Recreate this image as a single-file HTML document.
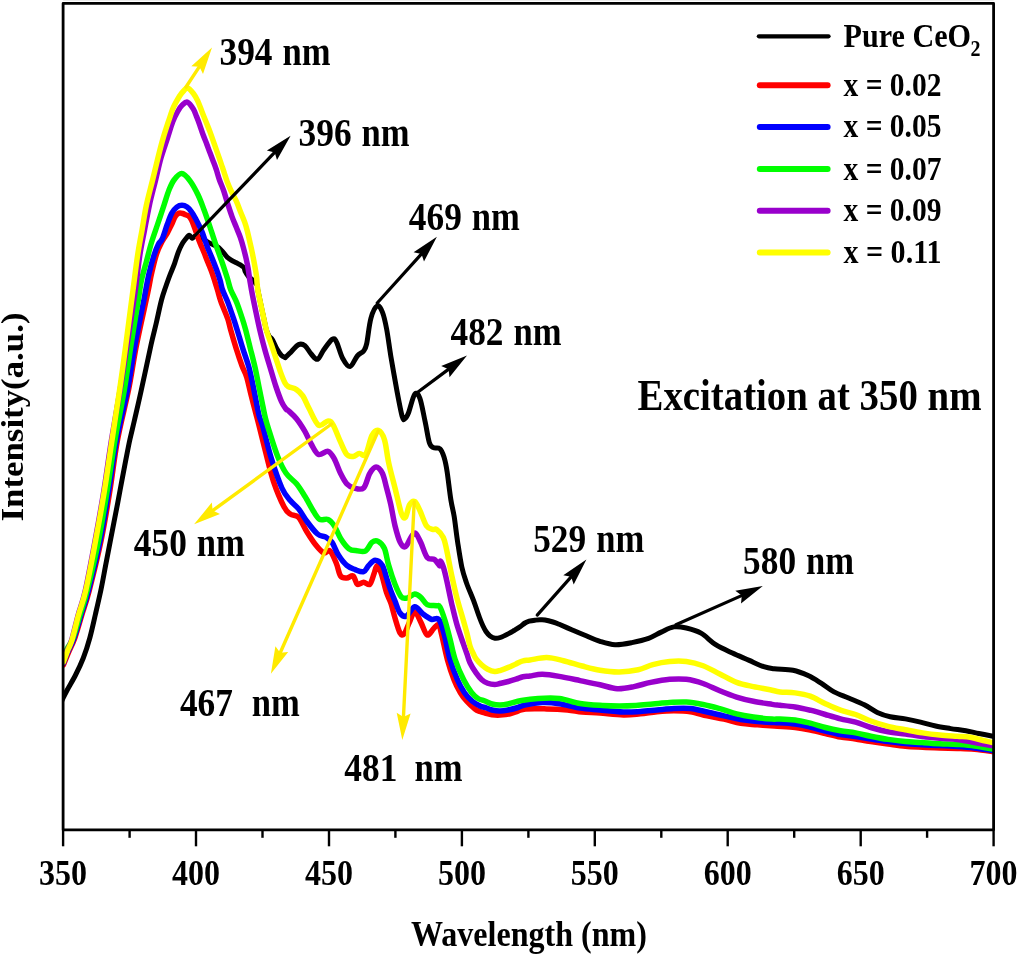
<!DOCTYPE html>
<html><head><meta charset="utf-8"><title>Emission spectra</title>
<style>html,body{margin:0;padding:0;background:#fff;} svg{display:block;filter:blur(0.55px);}</style>
</head><body>
<svg width="1018" height="955" viewBox="0 0 1018 955">
<rect width="1018" height="955" fill="#fff"/>
<clipPath id="pc"><rect x="63.1" y="3.4" width="930.5" height="826.4"/></clipPath>
<g clip-path="url(#pc)">
<path d="M62.0,700.5 C62.2,700.1 62.3,699.8 63.2,698.0 C64.1,696.2 65.2,693.8 67.2,690.0 C69.2,686.2 72.6,680.8 75.3,675.5 C78.0,670.2 80.9,664.2 83.3,658.0 C85.7,651.8 87.8,645.3 89.8,638.0 C91.8,630.7 93.7,621.8 95.5,614.0 C97.3,606.2 99.0,598.9 100.7,591.0 C102.4,583.1 103.8,575.0 105.4,566.5 C107.0,558.0 108.5,550.6 110.5,540.0 C112.5,529.4 115.9,512.7 117.7,503.0 C119.5,493.3 120.3,489.0 121.6,482.0 C122.9,475.0 124.2,468.0 125.6,461.0 C127.0,454.0 128.3,446.8 129.8,440.0 C131.3,433.2 132.6,428.3 134.5,420.0 C136.4,411.7 138.6,402.5 141.3,390.0 C144.1,377.5 148.5,356.3 151.0,345.0 C153.5,333.7 154.8,329.5 156.5,322.0 C158.2,314.5 160.0,305.7 161.5,300.0 C163.0,294.3 163.8,292.3 165.3,288.0 C166.8,283.7 168.7,278.3 170.3,274.2 C171.9,270.1 173.4,266.8 174.7,263.1 C176.0,259.4 177.1,255.3 178.3,252.1 C179.5,248.9 180.8,246.3 182.0,244.1 C183.2,241.9 184.4,240.5 185.6,239.0 C186.8,237.5 188.2,235.4 189.3,235.3 C190.4,235.2 191.2,238.1 192.2,238.2 C193.2,238.3 194.1,236.3 195.2,236.0 C196.3,235.7 197.5,236.0 198.8,236.5 C200.1,237.0 201.3,238.0 203.0,239.0 C204.7,240.0 207.0,241.6 208.8,242.6 C210.6,243.6 212.1,244.2 213.8,245.0 C215.5,245.8 217.1,246.2 218.8,247.6 C220.5,249.0 222.4,251.5 223.9,253.2 C225.4,254.9 226.3,256.4 227.6,257.6 C228.8,258.8 229.9,259.4 231.4,260.2 C232.9,261.0 234.8,261.9 236.4,262.7 C238.0,263.5 239.5,264.4 240.8,265.2 C242.1,266.0 243.3,266.6 244.0,267.7 C244.7,268.8 244.4,270.0 245.2,271.5 C245.9,273.0 247.2,275.0 248.5,276.5 C249.8,278.0 251.6,279.1 253.0,280.5 C254.4,281.9 256.3,283.4 257.1,285.0 C257.9,286.6 257.3,287.5 257.8,290.0 C258.3,292.5 259.2,296.7 259.9,300.0 C260.6,303.3 261.3,306.7 262.0,310.0 C262.7,313.3 263.5,316.7 264.2,320.0 C264.9,323.3 265.6,327.3 266.4,330.0 C267.2,332.7 268.0,334.4 269.0,336.0 C270.0,337.6 271.0,337.4 272.3,339.5 C273.6,341.6 275.3,346.2 276.8,348.8 C278.3,351.4 280.1,354.0 281.5,355.4 C282.9,356.8 284.3,357.0 285.0,357.3 C285.7,357.6 284.8,358.0 285.8,357.1 C286.9,356.2 289.2,353.8 291.3,351.7 C293.4,349.6 296.3,345.6 298.6,344.6 C300.9,343.6 302.9,344.1 305.0,345.7 C307.1,347.3 309.1,351.7 311.2,354.0 C313.3,356.3 315.4,360.0 317.5,359.3 C319.6,358.6 321.4,353.1 323.8,349.8 C326.2,346.5 330.0,340.8 332.1,339.4 C334.2,338.0 334.6,338.4 336.3,341.5 C338.1,344.6 340.3,354.0 342.6,358.2 C344.9,362.4 347.6,367.0 350.0,366.6 C352.4,366.2 355.0,358.6 357.3,356.0 C359.6,353.4 362.0,353.0 363.6,350.9 C365.2,348.8 365.5,349.0 366.7,343.6 C367.9,338.2 369.1,324.7 370.9,318.4 C372.6,312.1 375.3,306.9 377.2,305.9 C379.1,304.8 380.8,308.3 382.4,312.1 C384.0,315.9 385.2,321.6 386.6,328.9 C388.0,336.2 389.1,345.6 390.8,356.1 C392.6,366.6 395.2,381.6 397.1,391.7 C399.0,401.8 401.0,412.4 402.3,416.9 C403.6,421.4 404.0,419.1 405.0,418.5 C406.0,417.9 406.8,417.2 408.4,413.1 C410.0,409.1 412.8,396.6 414.7,394.2 C416.6,391.8 418.2,393.8 419.9,398.4 C421.6,402.9 423.5,414.2 425.1,421.5 C426.7,428.8 427.9,438.0 429.3,442.4 C430.7,446.8 431.8,446.6 433.5,447.6 C435.2,448.7 438.1,447.1 439.8,448.7 C441.6,450.3 442.8,453.3 444.0,457.1 C445.2,460.9 446.0,464.6 447.1,471.7 C448.2,478.8 449.7,492.5 450.9,500.0 C452.1,507.5 453.1,509.7 454.2,516.7 C455.3,523.7 456.3,533.4 457.6,541.8 C458.9,550.2 460.3,559.9 461.8,566.9 C463.3,573.9 464.9,578.1 466.8,583.7 C468.8,589.3 471.4,594.8 473.5,600.4 C475.6,606.0 477.9,613.2 479.5,617.5 C481.1,621.8 481.9,623.7 483.0,626.0 C484.1,628.3 484.8,629.8 486.0,631.5 C487.2,633.2 488.5,634.9 490.0,636.0 C491.5,637.1 493.3,638.0 495.0,638.3 C496.7,638.5 498.0,638.3 500.3,637.5 C502.6,636.7 506.3,634.8 508.6,633.6 C510.9,632.4 512.0,631.7 514.0,630.5 C516.0,629.3 518.6,627.8 520.4,626.5 C522.2,625.2 523.5,623.9 525.0,623.0 C526.5,622.1 527.5,621.7 529.2,621.2 C530.9,620.7 533.2,620.4 535.0,620.2 C536.8,620.0 538.3,619.8 540.0,619.8 C541.7,619.8 542.8,619.6 545.0,620.0 C547.2,620.4 550.6,621.3 553.0,622.0 C555.4,622.7 556.1,623.0 559.2,624.3 C562.3,625.6 567.5,627.9 571.7,629.7 C575.9,631.5 579.6,633.1 584.3,635.0 C589.0,636.9 594.9,639.7 600.0,641.3 C605.1,642.9 609.8,644.5 615.1,644.7 C620.4,644.9 626.3,643.7 631.9,642.6 C637.5,641.5 643.7,640.1 648.6,638.4 C653.5,636.6 657.0,634.0 661.2,632.1 C665.4,630.2 669.6,627.6 673.8,626.9 C678.0,626.2 681.8,627.0 686.3,628.0 C690.8,629.0 696.1,630.4 701.0,633.2 C705.9,636.0 710.5,641.4 715.7,644.7 C720.9,648.0 726.8,650.5 732.4,653.1 C738.0,655.7 744.0,658.1 749.2,660.4 C754.4,662.7 759.6,665.3 763.8,666.7 C768.0,668.1 769.4,668.2 774.3,668.8 C779.2,669.4 787.4,669.1 793.0,670.2 C798.6,671.3 803.4,673.4 808.1,675.6 C812.8,677.8 816.8,680.5 821.1,683.2 C825.4,685.9 829.3,689.4 834.0,691.9 C838.7,694.4 844.2,696.1 849.2,698.3 C854.2,700.4 859.6,702.4 864.3,704.8 C869.0,707.1 873.0,710.4 877.3,712.4 C881.6,714.4 885.5,715.6 890.2,716.7 C894.9,717.8 900.4,718.0 905.4,718.9 C910.4,719.8 915.5,720.9 920.5,722.1 C925.5,723.3 930.6,724.9 935.6,726.0 C940.6,727.1 945.7,727.8 950.7,728.6 C955.8,729.4 961.2,730.0 965.9,730.8 C970.6,731.6 974.3,732.6 978.8,733.5 C983.3,734.4 990.0,735.6 992.9,736.2 C995.8,736.8 995.5,736.9 996.0,737.0" fill="none" stroke="#000000" stroke-width="5.0" stroke-linejoin="round" stroke-linecap="round"/>
<path d="M63.4,665.0 C64.2,663.0 66.4,657.5 68.3,653.0 C70.2,648.5 72.5,644.3 74.8,638.0 C77.0,631.7 79.4,623.0 81.8,615.0 C84.2,607.0 86.1,602.7 89.3,590.2 C92.5,577.7 97.8,556.7 101.2,540.0 C104.7,523.3 107.3,506.7 110.0,490.0 C112.7,473.3 114.4,456.7 117.5,440.0 C120.6,423.3 125.3,405.8 128.5,390.0 C131.7,374.2 133.3,361.2 136.5,345.0 C139.7,328.8 145.2,304.8 147.7,293.0 C150.2,281.2 149.9,280.7 151.4,274.2 C152.9,267.7 154.7,259.6 156.5,254.1 C158.3,248.6 160.4,244.7 162.2,241.2 C164.0,237.7 165.7,235.9 167.3,233.1 C168.9,230.3 170.3,227.1 171.7,224.3 C173.0,221.5 174.2,218.0 175.4,216.2 C176.6,214.3 177.8,213.6 179.0,213.2 C180.2,212.8 181.6,213.2 182.7,213.5 C183.8,213.8 184.6,214.4 185.6,214.8 C186.6,215.2 187.6,215.1 188.6,216.0 C189.6,216.9 190.5,218.1 191.5,220.0 C192.5,221.9 193.4,224.5 194.4,227.2 C195.4,229.9 196.4,233.1 197.4,236.0 C198.4,238.9 199.5,241.7 200.6,244.4 C201.7,247.1 202.7,249.2 203.8,252.0 C205.0,254.8 206.2,258.3 207.5,261.4 C208.8,264.5 210.1,267.6 211.3,270.8 C212.5,274.0 213.5,277.1 214.5,280.3 C215.5,283.5 216.4,286.4 217.5,290.0 C218.6,293.6 219.3,297.1 221.0,301.9 C222.7,306.7 226.1,314.0 227.7,318.7 C229.3,323.4 229.3,325.0 230.7,330.0 C232.1,335.0 234.4,342.8 236.3,348.8 C238.2,354.8 240.3,361.1 242.0,365.8 C243.7,370.5 245.1,372.1 246.7,377.1 C248.2,382.1 249.7,389.6 251.3,395.9 C252.9,402.2 254.9,409.9 256.2,414.8 C257.5,419.7 257.3,418.7 258.9,425.0 C260.5,431.3 263.3,443.0 265.7,452.4 C268.1,461.8 270.4,472.4 273.5,481.5 C276.6,490.6 281.2,501.4 284.0,506.8 C286.8,512.2 287.9,512.4 290.3,514.1 C292.7,515.9 295.8,514.3 298.6,517.3 C301.4,520.3 304.2,527.5 307.0,532.0 C309.8,536.5 312.6,541.0 315.4,544.5 C318.2,548.0 321.4,551.9 323.8,552.9 C326.2,553.9 327.9,549.1 330.0,550.8 C332.1,552.5 334.6,559.1 336.3,563.3 C338.1,567.5 338.8,573.4 340.5,575.9 C342.2,578.4 344.7,578.0 346.8,578.0 C348.9,578.0 351.4,574.9 353.1,575.9 C354.9,576.9 355.6,583.2 357.3,584.3 C359.1,585.3 361.5,582.2 363.6,582.2 C365.7,582.2 368.1,585.7 369.8,584.3 C371.5,582.9 372.8,576.9 374.0,573.8 C375.2,570.6 376.0,565.4 377.2,565.4 C378.4,565.4 379.8,569.2 381.4,573.8 C383.0,578.3 385.0,587.8 386.6,592.7 C388.2,597.6 389.4,598.8 390.8,603.0 C392.2,607.2 393.5,613.0 395.0,618.0 C396.5,623.0 398.5,630.2 400.0,632.9 C401.5,635.5 402.6,635.6 404.2,633.9 C405.8,632.1 407.6,626.1 409.4,622.4 C411.1,618.7 412.8,611.9 414.7,611.9 C416.6,611.9 418.8,618.5 420.9,622.4 C423.0,626.2 425.1,634.0 427.2,635.0 C429.3,636.0 431.6,630.5 433.5,628.7 C435.4,627.0 437.4,623.6 438.7,624.5 C440.0,625.4 440.0,628.1 441.5,634.0 C443.0,639.9 445.4,652.3 447.5,660.0 C449.6,667.7 452.0,674.6 454.1,680.1 C456.2,685.6 458.2,689.1 460.4,692.7 C462.5,696.3 464.6,698.8 467.0,701.5 C469.4,704.2 472.8,707.3 475.0,709.0 C477.2,710.7 478.3,710.8 480.0,711.5 C481.7,712.2 483.0,712.5 485.0,713.0 C487.0,713.5 489.5,714.4 492.0,714.8 C494.5,715.1 497.0,715.3 500.0,715.1 C503.0,714.9 507.0,714.5 510.0,713.8 C513.0,713.1 515.4,711.8 518.0,711.0 C520.6,710.2 520.9,709.4 525.7,709.0 C530.5,708.6 539.6,708.8 546.6,708.9 C553.6,709.0 561.6,709.4 567.5,709.9 C573.4,710.4 576.8,711.5 582.2,712.0 C587.6,712.5 593.1,712.6 600.0,713.1 C606.9,713.6 616.8,714.8 623.5,714.9 C630.2,715.0 634.7,714.3 640.3,713.8 C645.9,713.3 651.4,712.2 657.0,711.7 C662.6,711.2 668.2,710.7 673.8,710.7 C679.4,710.7 684.9,710.8 690.5,711.7 C696.1,712.6 701.7,714.7 707.3,715.9 C712.9,717.1 718.4,717.9 724.0,719.1 C729.6,720.3 735.2,722.3 740.8,723.3 C746.4,724.2 751.9,724.3 757.5,724.8 C763.1,725.2 768.0,725.5 774.3,726.0 C780.6,726.5 789.1,726.8 795.1,727.5 C801.1,728.2 805.2,729.0 810.3,730.0 C815.3,731.0 820.4,732.3 825.4,733.5 C830.4,734.7 835.5,736.1 840.5,737.0 C845.5,737.9 850.6,738.2 855.6,739.0 C860.6,739.8 865.4,740.7 870.8,741.5 C876.2,742.3 882.3,743.2 888.1,744.0 C893.9,744.8 899.6,745.8 905.4,746.3 C911.1,746.8 916.9,747.0 922.6,747.3 C928.4,747.6 934.1,747.8 939.9,748.0 C945.7,748.2 951.4,748.3 957.2,748.5 C963.0,748.7 968.5,748.8 974.5,749.3 C980.5,749.8 989.8,751.1 992.9,751.5" fill="none" stroke="#ff0000" stroke-width="5.5" stroke-linejoin="round" stroke-linecap="round"/>
<path d="M63.4,663.0 C64.1,661.2 66.0,656.2 67.8,652.0 C69.6,647.8 71.8,644.2 74.0,638.0 C76.2,631.8 78.6,623.0 81.0,615.0 C83.4,607.0 85.3,602.7 88.5,590.2 C91.7,577.7 96.8,556.7 100.2,540.0 C103.6,523.3 106.1,506.7 108.8,490.0 C111.5,473.3 113.4,456.7 116.5,440.0 C119.6,423.3 124.4,405.8 127.5,390.0 C130.6,374.2 132.3,360.0 135.0,345.0 C137.7,330.0 141.6,311.8 143.9,300.0 C146.2,288.2 147.2,281.6 148.9,274.2 C150.6,266.8 152.4,260.4 154.0,255.4 C155.6,250.4 157.1,246.7 158.5,244.0 C159.9,241.3 160.7,242.3 162.2,239.0 C163.7,235.7 165.7,228.6 167.3,224.3 C168.9,220.0 170.1,216.2 171.7,213.3 C173.3,210.4 175.1,208.4 176.8,207.1 C178.5,205.8 180.3,205.3 182.0,205.3 C183.7,205.3 185.5,206.0 187.1,207.1 C188.7,208.2 190.0,209.8 191.5,211.8 C193.0,213.8 194.6,216.8 195.9,219.2 C197.2,221.6 198.5,224.2 199.6,226.5 C200.7,228.8 201.3,229.8 202.5,233.0 C203.7,236.2 205.4,241.8 206.9,245.7 C208.4,249.6 209.7,252.5 211.3,256.4 C212.9,260.3 214.8,265.0 216.3,269.0 C217.8,273.0 219.1,276.8 220.1,280.3 C221.1,283.8 221.3,286.4 222.6,290.0 C223.9,293.6 225.9,297.1 227.7,301.9 C229.5,306.7 232.0,314.0 233.6,318.7 C235.2,323.4 235.6,325.0 237.2,330.0 C238.8,335.0 241.0,342.8 242.9,348.8 C244.8,354.8 246.9,360.3 248.5,365.8 C250.1,371.3 251.2,376.8 252.3,381.8 C253.4,386.8 254.0,390.4 255.1,395.9 C256.2,401.4 257.6,409.6 258.9,414.8 C260.2,420.0 260.9,419.9 263.0,427.2 C265.1,434.5 268.2,448.5 271.4,458.6 C274.5,468.7 278.8,481.0 281.9,488.0 C285.0,495.0 287.5,497.0 290.3,500.5 C293.1,504.0 295.8,505.4 298.6,508.9 C301.4,512.4 303.9,517.3 307.0,521.5 C310.1,525.7 314.4,531.4 317.5,534.0 C320.6,536.6 323.5,535.8 325.9,537.2 C328.3,538.6 330.0,539.4 332.1,542.4 C334.2,545.4 335.9,551.2 338.4,555.0 C340.8,558.8 344.0,563.0 346.8,565.4 C349.6,567.8 352.4,568.5 355.2,569.6 C358.0,570.7 361.3,572.4 363.6,571.7 C365.9,571.0 366.9,567.3 368.8,565.4 C370.7,563.5 372.8,560.2 375.1,560.2 C377.4,560.2 380.5,562.4 382.4,565.4 C384.3,568.4 385.2,573.8 386.6,578.0 C388.0,582.2 389.4,586.8 390.8,590.6 C392.2,594.4 393.5,597.3 395.0,601.0 C396.5,604.7 398.1,610.5 400.0,613.0 C401.9,615.5 403.9,617.1 406.3,616.1 C408.8,615.1 411.9,607.1 414.7,606.7 C417.5,606.4 420.2,611.9 423.0,614.0 C425.8,616.1 428.8,618.4 431.4,619.3 C434.0,620.2 436.6,616.9 438.7,619.3 C440.8,621.7 442.1,626.8 444.0,633.5 C445.9,640.2 447.7,651.7 450.0,659.5 C452.3,667.3 455.2,674.6 457.6,680.1 C460.0,685.6 462.1,689.2 464.5,692.7 C466.9,696.2 469.4,698.8 472.0,701.0 C474.6,703.2 477.8,704.9 480.0,706.0 C482.2,707.1 483.0,706.7 485.0,707.4 C487.0,708.1 489.5,709.4 492.0,710.0 C494.5,710.6 497.3,711.0 500.0,711.0 C502.7,711.0 505.0,710.6 508.0,710.0 C511.0,709.4 515.0,708.4 518.0,707.5 C521.0,706.6 521.6,705.5 525.7,704.7 C529.8,703.9 536.8,702.8 542.4,702.6 C548.0,702.4 552.9,702.8 559.2,703.7 C565.5,704.6 573.3,707.0 580.1,708.0 C586.9,709.0 592.8,709.3 600.0,710.0 C607.2,710.7 616.8,711.8 623.5,712.0 C630.2,712.2 634.7,711.8 640.3,711.5 C645.9,711.2 651.4,710.5 657.0,710.0 C662.6,709.5 668.2,708.8 673.8,708.5 C679.4,708.2 684.9,707.9 690.5,708.5 C696.1,709.1 701.7,710.8 707.3,712.0 C712.9,713.2 718.4,714.6 724.0,715.9 C729.6,717.1 735.2,718.6 740.8,719.5 C746.4,720.4 751.9,721.0 757.5,721.5 C763.1,722.0 768.0,722.1 774.3,722.5 C780.6,722.9 789.1,723.2 795.1,724.0 C801.1,724.8 805.2,725.8 810.3,727.0 C815.3,728.2 820.4,729.8 825.4,731.0 C830.4,732.2 835.5,733.6 840.5,734.5 C845.5,735.4 850.6,735.8 855.6,736.5 C860.6,737.2 865.4,738.2 870.8,739.0 C876.2,739.8 882.3,740.8 888.1,741.5 C893.9,742.2 899.6,743.0 905.4,743.5 C911.1,744.0 916.9,744.5 922.6,744.8 C928.4,745.1 934.1,745.2 939.9,745.5 C945.7,745.8 951.4,746.1 957.2,746.5 C963.0,746.9 968.5,747.3 974.5,748.0 C980.5,748.7 989.8,750.1 992.9,750.5" fill="none" stroke="#0000ff" stroke-width="5.5" stroke-linejoin="round" stroke-linecap="round"/>
<path d="M63.4,657.5 C64.1,655.9 65.9,651.2 67.5,648.0 C69.1,644.8 70.9,643.5 73.0,638.0 C75.1,632.5 77.6,623.0 80.0,615.0 C82.4,607.0 84.2,602.7 87.3,590.2 C90.4,577.7 95.4,556.7 98.7,540.0 C102.0,523.3 104.6,506.7 107.3,490.0 C110.0,473.3 112.2,456.7 115.0,440.0 C117.8,423.3 121.6,405.8 124.3,390.0 C127.0,374.2 128.7,360.0 131.0,345.0 C133.3,330.0 136.6,310.8 138.3,300.0 C140.0,289.2 140.1,286.9 141.4,280.5 C142.8,274.1 144.7,267.9 146.4,261.6 C148.1,255.3 149.5,249.1 151.4,242.8 C153.3,236.5 155.6,230.3 157.7,224.0 C159.8,217.7 162.1,210.8 164.0,205.1 C165.9,199.4 167.3,194.2 169.0,190.0 C170.7,185.8 171.9,182.8 174.0,180.0 C176.1,177.2 179.0,173.4 181.7,173.5 C184.4,173.6 187.3,177.2 190.0,180.8 C192.7,184.4 195.8,190.2 198.1,195.0 C200.4,199.8 202.0,204.4 204.0,209.7 C206.0,215.0 208.2,221.5 210.0,227.0 C211.8,232.5 213.5,237.9 215.1,242.6 C216.7,247.3 218.0,250.9 219.5,255.1 C221.0,259.3 222.6,263.7 223.9,267.7 C225.2,271.7 226.4,275.3 227.6,279.0 C228.8,282.7 229.2,286.0 230.8,290.0 C232.4,294.0 235.0,298.2 236.9,303.0 C238.8,307.8 240.8,314.2 242.3,318.7 C243.8,323.2 244.3,325.0 245.7,330.0 C247.0,335.0 248.8,342.5 250.4,348.8 C252.0,355.1 253.7,361.4 255.1,367.7 C256.5,374.0 257.6,380.2 258.9,386.5 C260.2,392.8 261.6,400.1 262.7,405.4 C263.8,410.7 264.4,414.2 265.5,418.5 C266.6,422.8 267.3,425.1 269.3,431.4 C271.3,437.7 274.9,449.5 277.7,456.5 C280.5,463.5 283.0,468.8 286.1,473.3 C289.2,477.9 293.4,480.0 296.5,483.8 C299.6,487.6 302.1,491.8 304.9,496.3 C307.7,500.8 310.9,507.1 313.3,511.0 C315.8,514.9 317.2,518.0 319.6,519.4 C322.1,520.8 325.6,518.3 328.0,519.4 C330.4,520.5 332.1,522.6 334.2,525.7 C336.3,528.8 338.1,534.4 340.5,538.2 C342.9,542.0 346.1,546.6 348.9,548.7 C351.7,550.8 354.5,550.4 357.3,550.8 C360.1,551.1 363.3,552.2 365.7,550.8 C368.1,549.4 369.8,544.0 371.9,542.4 C374.0,540.8 376.1,540.3 378.2,541.4 C380.3,542.5 382.8,544.7 384.5,548.7 C386.2,552.7 386.9,559.5 388.7,565.4 C390.4,571.3 392.9,579.0 395.0,584.3 C397.1,589.5 399.2,594.6 401.3,596.9 C403.4,599.2 405.3,598.4 407.5,597.9 C409.7,597.4 412.5,594.2 414.7,594.1 C416.9,594.0 418.8,595.5 420.9,597.3 C423.0,599.0 424.6,603.2 427.2,604.6 C429.8,606.0 434.5,605.3 436.6,605.7 C438.7,606.1 438.6,604.5 440.0,607.0 C441.4,609.5 443.3,615.2 445.0,620.5 C446.7,625.8 448.3,632.6 450.0,639.0 C451.7,645.4 452.7,652.1 455.0,659.0 C457.3,665.9 461.0,674.5 463.8,680.1 C466.6,685.7 469.3,689.6 471.7,692.7 C474.1,695.8 475.8,697.1 478.0,698.5 C480.2,699.9 482.7,700.1 485.0,701.0 C487.3,701.9 489.5,703.3 492.0,704.0 C494.5,704.7 497.3,705.0 500.0,705.0 C502.7,705.0 504.4,704.8 508.0,704.0 C511.6,703.2 516.5,701.4 521.5,700.5 C526.5,699.6 531.9,698.8 538.2,698.4 C544.5,698.0 552.2,697.5 559.2,698.4 C566.2,699.2 572.9,702.3 580.1,703.5 C587.3,704.7 596.1,705.1 602.6,705.5 C609.1,705.9 613.7,706.0 619.3,706.0 C624.9,706.0 630.5,705.8 636.1,705.5 C641.7,705.2 647.2,704.5 652.8,704.0 C658.4,703.5 664.0,702.8 669.6,702.5 C675.2,702.2 680.7,701.7 686.3,702.0 C691.9,702.3 697.5,703.4 703.1,704.5 C708.7,705.6 714.2,707.1 719.8,708.6 C725.4,710.1 731.0,712.4 736.6,713.8 C742.2,715.2 747.5,716.1 753.4,717.0 C759.3,717.9 767.8,718.8 772.2,719.1 C776.6,719.4 776.2,718.8 780.0,718.9 C783.8,719.0 790.1,719.3 795.1,720.0 C800.1,720.7 805.2,722.0 810.3,723.2 C815.3,724.5 820.4,726.2 825.4,727.5 C830.4,728.8 835.5,729.9 840.5,730.8 C845.5,731.7 850.6,732.0 855.6,732.9 C860.6,733.8 865.4,735.1 870.8,736.2 C876.2,737.3 882.3,738.5 888.1,739.4 C893.9,740.3 899.6,741.1 905.4,741.6 C911.1,742.1 916.9,742.2 922.6,742.6 C928.4,743.0 934.1,743.4 939.9,743.7 C945.7,744.0 951.4,744.0 957.2,744.4 C963.0,744.8 968.5,745.1 974.5,745.9 C980.5,746.7 989.8,748.6 992.9,749.1" fill="none" stroke="#00ff00" stroke-width="5.5" stroke-linejoin="round" stroke-linecap="round"/>
<path d="M63.4,661.0 C64.0,659.2 65.8,654.0 67.2,650.5 C68.6,647.0 69.9,645.9 71.7,640.0 C73.5,634.1 75.9,623.3 78.2,615.0 C80.5,606.7 82.6,602.7 85.4,590.2 C88.2,577.7 92.1,556.7 95.2,540.0 C98.3,523.3 101.3,506.7 104.0,490.0 C106.7,473.3 108.8,456.7 111.5,440.0 C114.2,423.3 117.5,405.8 120.1,390.0 C122.7,374.2 124.5,361.7 127.0,345.0 C129.5,328.3 133.2,304.9 135.3,290.0 C137.4,275.1 138.3,265.4 139.8,255.4 C141.3,245.4 142.9,238.6 144.5,230.2 C146.1,221.8 147.6,213.5 149.4,205.1 C151.2,196.7 153.7,187.8 155.6,180.0 C157.5,172.2 158.9,165.4 160.8,158.5 C162.8,151.6 165.3,144.7 167.3,138.6 C169.3,132.5 171.0,126.4 172.7,121.9 C174.4,117.4 176.1,114.3 177.7,111.5 C179.3,108.7 180.8,106.3 182.5,104.8 C184.2,103.2 185.8,101.5 187.6,102.2 C189.4,102.9 191.9,106.7 193.4,109.1 C194.9,111.5 195.4,113.8 196.5,116.4 C197.6,119.0 198.6,121.6 199.7,124.8 C200.8,128.0 202.1,132.0 203.3,135.3 C204.5,138.6 205.9,141.7 207.0,144.7 C208.1,147.7 209.0,150.3 210.1,153.1 C211.2,155.9 212.2,158.6 213.3,161.4 C214.4,164.2 215.4,166.7 216.4,169.8 C217.4,172.9 218.3,176.6 219.5,180.0 C220.7,183.4 222.2,186.5 223.6,190.5 C225.0,194.5 226.4,199.8 227.8,204.1 C229.2,208.4 230.6,212.8 232.0,216.6 C233.4,220.4 234.8,223.6 236.2,227.1 C237.6,230.6 239.2,234.1 240.4,237.6 C241.6,241.1 242.6,244.6 243.5,248.1 C244.4,251.6 245.3,255.0 246.1,258.5 C246.9,262.0 247.6,265.4 248.2,269.0 C248.8,272.6 249.2,276.5 249.8,280.0 C250.4,283.5 250.6,285.0 251.5,290.0 C252.4,295.0 254.1,303.3 255.5,310.0 C256.9,316.7 258.3,323.5 259.8,330.0 C261.3,336.5 262.9,342.5 264.6,348.8 C266.3,355.1 268.3,361.4 270.2,367.7 C272.1,374.0 274.0,380.9 275.9,386.5 C277.8,392.1 279.8,397.9 281.5,401.6 C283.2,405.4 284.9,407.5 286.0,409.0 C287.1,410.5 286.4,408.9 288.2,410.5 C289.9,412.1 293.7,415.3 296.5,418.8 C299.3,422.3 302.4,427.2 304.9,431.4 C307.3,435.6 308.9,440.1 311.2,444.0 C313.5,447.9 315.7,453.3 318.5,454.5 C321.3,455.7 325.4,450.6 328.0,451.3 C330.6,452.0 332.1,454.9 334.2,458.6 C336.3,462.3 338.4,469.1 340.5,473.3 C342.6,477.5 344.5,481.4 346.8,483.8 C349.1,486.2 351.3,487.3 354.1,488.0 C356.9,488.7 361.0,490.4 363.6,488.0 C366.2,485.6 367.7,476.8 369.8,473.3 C371.9,469.8 374.0,467.0 376.1,467.0 C378.2,467.0 380.6,469.8 382.4,473.3 C384.1,476.8 385.2,482.8 386.6,488.0 C388.0,493.2 389.4,498.4 390.8,504.7 C392.2,511.0 393.4,519.4 395.0,525.7 C396.6,532.0 398.5,538.9 400.2,542.4 C401.9,545.9 403.5,547.6 405.4,546.6 C407.3,545.6 410.0,538.3 411.7,536.1 C413.4,533.9 414.2,532.3 415.7,533.4 C417.2,534.5 419.0,538.8 420.9,542.8 C422.8,546.8 424.9,554.7 427.2,557.5 C429.5,560.3 432.5,558.2 434.6,559.6 C436.7,561.0 438.8,565.7 439.8,565.9 C440.8,566.1 439.9,560.8 440.5,561.0 C441.1,561.2 442.3,563.7 443.3,566.9 C444.3,570.1 445.3,574.1 446.7,580.3 C448.1,586.4 450.0,596.5 451.7,603.8 C453.4,611.0 454.8,617.1 456.7,623.8 C458.6,630.5 461.7,638.9 463.4,643.9 C465.1,648.9 465.9,650.9 467.0,654.0 C468.1,657.1 468.5,659.6 470.0,662.7 C471.5,665.8 473.9,669.9 475.9,672.7 C477.9,675.6 479.8,678.0 481.8,679.8 C483.8,681.6 485.6,682.5 487.7,683.3 C489.8,684.1 492.5,684.5 494.7,684.5 C496.9,684.5 498.3,683.8 500.6,683.3 C502.9,682.8 505.7,682.2 508.3,681.5 C510.9,680.8 513.5,680.0 516.0,679.2 C518.5,678.4 520.7,677.3 523.0,676.8 C525.3,676.3 526.8,676.4 530.0,676.0 C533.2,675.6 537.5,674.2 542.4,674.3 C547.3,674.4 552.9,675.3 559.2,676.4 C565.5,677.5 573.3,679.2 580.1,680.6 C586.9,682.0 593.8,683.4 600.0,684.8 C606.2,686.1 611.5,688.4 617.2,688.7 C622.9,689.0 628.4,687.7 634.0,686.6 C639.6,685.5 644.8,683.6 650.7,682.4 C656.6,681.2 663.7,679.8 669.6,679.3 C675.5,678.8 680.7,678.6 686.3,679.3 C691.9,680.0 697.5,681.6 703.1,683.5 C708.7,685.4 714.2,688.5 719.8,690.8 C725.4,693.1 731.0,695.4 736.6,697.1 C742.2,698.9 747.5,700.1 753.4,701.3 C759.3,702.5 767.8,703.7 772.2,704.4 C776.6,705.1 776.2,704.9 780.0,705.3 C783.8,705.7 790.1,706.2 795.1,707.0 C800.1,707.8 805.2,709.0 810.3,710.2 C815.3,711.5 820.4,713.0 825.4,714.5 C830.4,716.0 835.5,717.6 840.5,718.9 C845.5,720.2 850.6,720.7 855.6,722.1 C860.6,723.5 865.4,725.9 870.8,727.5 C876.2,729.1 882.3,730.7 888.1,731.8 C893.9,732.9 899.6,733.2 905.4,734.0 C911.1,734.8 916.9,735.9 922.6,736.6 C928.4,737.3 934.1,737.8 939.9,738.3 C945.7,738.8 951.4,738.7 957.2,739.4 C963.0,740.1 968.5,741.5 974.5,742.6 C980.5,743.7 989.8,745.4 992.9,745.9" fill="none" stroke="#9900cc" stroke-width="5.5" stroke-linejoin="round" stroke-linecap="round"/>
<path d="M63.4,662.0 C64.1,660.2 66.1,654.7 67.5,651.0 C68.9,647.3 70.2,646.0 72.0,640.0 C73.8,634.0 76.2,623.3 78.5,615.0 C80.8,606.7 82.9,602.7 85.8,590.2 C88.7,577.7 92.6,556.7 95.7,540.0 C98.8,523.3 101.8,506.7 104.5,490.0 C107.2,473.3 109.5,456.7 112.0,440.0 C114.5,423.3 117.3,405.8 119.6,390.0 C121.9,374.2 123.6,361.7 125.8,345.0 C128.0,328.3 131.0,304.9 133.0,290.0 C135.0,275.1 136.1,265.4 137.6,255.4 C139.1,245.4 140.5,238.6 142.0,230.2 C143.5,221.8 144.6,213.5 146.4,205.1 C148.2,196.7 150.7,187.8 152.6,180.0 C154.5,172.2 156.1,165.4 157.8,158.5 C159.5,151.6 161.2,144.7 163.0,138.6 C164.8,132.5 166.6,127.1 168.3,121.9 C170.1,116.7 171.6,111.6 173.5,107.2 C175.4,102.8 178.1,98.5 179.8,95.7 C181.6,92.9 182.7,91.8 184.0,90.5 C185.3,89.2 186.0,87.4 187.6,87.9 C189.2,88.4 191.7,91.3 193.4,93.4 C195.1,95.5 196.2,97.7 197.6,100.7 C199.0,103.7 200.4,107.7 201.8,111.2 C203.2,114.7 204.5,118.1 205.9,121.6 C207.3,125.1 208.8,128.6 210.1,132.1 C211.4,135.6 212.6,139.1 213.8,142.6 C215.0,146.1 216.3,149.6 217.5,153.1 C218.7,156.6 220.0,160.2 221.1,163.5 C222.2,166.8 223.3,169.9 224.3,173.0 C225.3,176.1 226.2,179.1 227.3,182.0 C228.4,184.9 229.4,187.3 230.9,190.5 C232.4,193.7 234.6,197.4 236.2,200.9 C237.8,204.4 239.0,207.9 240.4,211.4 C241.8,214.9 243.4,218.6 244.6,221.9 C245.8,225.2 246.4,227.5 247.3,231.0 C248.2,234.5 249.1,238.9 250.0,242.7 C250.9,246.5 251.7,250.1 252.5,254.0 C253.3,257.9 254.1,262.2 254.8,266.0 C255.5,269.8 256.1,273.0 256.6,277.0 C257.1,281.0 256.9,284.5 257.8,290.0 C258.7,295.5 260.6,303.3 262.0,310.0 C263.4,316.7 264.9,324.3 266.4,330.0 C267.9,335.7 269.6,339.4 271.2,344.1 C272.8,348.8 274.3,353.6 275.9,358.3 C277.5,363.0 279.1,368.3 280.6,372.4 C282.1,376.5 283.7,380.6 285.0,383.0 C286.3,385.4 286.3,385.4 288.2,386.5 C290.1,387.6 294.1,388.0 296.5,389.6 C298.9,391.2 300.7,392.8 302.8,395.9 C304.9,399.0 306.5,403.6 309.1,408.5 C311.7,413.4 315.4,423.0 318.5,425.1 C321.6,427.2 325.6,420.9 328.0,420.9 C330.4,420.9 331.1,421.6 333.2,425.1 C335.3,428.6 338.2,437.0 340.5,441.9 C342.8,446.8 344.7,452.1 346.8,454.5 C348.9,456.9 351.0,456.7 353.1,456.5 C355.2,456.3 357.3,453.7 359.4,453.4 C361.5,453.1 363.6,457.5 365.7,454.5 C367.8,451.5 369.8,439.6 371.9,435.6 C374.0,431.6 376.1,429.7 378.2,430.4 C380.3,431.1 382.8,434.4 384.5,439.8 C386.2,445.2 386.9,454.8 388.7,462.8 C390.4,470.8 392.9,479.6 395.0,488.0 C397.1,496.4 399.6,508.2 401.3,513.1 C403.0,518.0 404.0,518.7 405.4,517.3 C406.8,515.9 408.0,507.3 409.6,504.7 C411.2,502.1 413.1,500.6 414.9,501.6 C416.6,502.7 418.2,507.0 420.1,511.0 C422.0,515.0 424.3,522.6 426.4,525.7 C428.5,528.8 431.0,528.9 432.7,529.5 C434.4,530.1 434.8,528.2 436.6,529.5 C438.4,530.8 441.6,534.0 443.3,537.5 C445.0,541.0 445.3,543.9 446.7,550.2 C448.1,556.5 450.0,567.5 451.7,575.3 C453.4,583.1 454.8,589.6 456.7,597.1 C458.6,604.6 461.7,614.4 463.4,620.5 C465.1,626.6 465.9,629.2 467.0,633.5 C468.1,637.8 469.0,642.8 470.0,646.0 C471.0,649.2 472.0,650.9 473.0,653.0 C474.0,655.1 474.4,656.6 475.9,658.6 C477.4,660.6 479.8,663.2 481.8,665.0 C483.8,666.8 485.6,668.1 487.7,669.2 C489.8,670.3 492.5,671.3 494.7,671.5 C496.9,671.7 498.3,671.0 500.6,670.3 C502.9,669.6 505.7,668.5 508.3,667.4 C510.9,666.3 513.5,665.0 516.0,663.9 C518.5,662.8 520.7,661.5 523.0,660.9 C525.3,660.2 526.1,660.5 530.0,660.0 C533.9,659.5 541.0,657.5 546.6,657.6 C552.2,657.7 557.5,659.3 563.4,660.7 C569.3,662.1 576.1,664.4 582.2,666.0 C588.3,667.6 593.8,669.2 600.0,670.2 C606.2,671.2 612.9,672.0 619.3,671.9 C625.7,671.8 632.6,671.0 638.2,669.8 C643.8,668.6 647.6,666.0 652.8,664.6 C658.0,663.2 664.0,662.0 669.6,661.5 C675.2,661.0 680.7,660.8 686.3,661.5 C691.9,662.2 697.5,663.6 703.1,665.7 C708.7,667.8 714.2,671.2 719.8,674.0 C725.4,676.8 731.0,680.3 736.6,682.4 C742.2,684.5 747.8,685.4 753.4,686.6 C759.0,687.8 765.7,688.8 770.1,689.7 C774.5,690.6 775.8,691.4 780.0,691.9 C784.2,692.4 790.1,692.2 795.1,692.9 C800.1,693.6 805.2,694.4 810.3,696.2 C815.3,698.0 820.4,701.4 825.4,703.7 C830.4,706.0 835.5,708.4 840.5,710.2 C845.5,712.0 850.6,712.7 855.6,714.5 C860.6,716.3 865.4,719.0 870.8,721.0 C876.2,723.0 882.3,724.9 888.1,726.4 C893.9,727.9 899.6,728.6 905.4,729.7 C911.1,730.8 916.9,732.0 922.6,732.9 C928.4,733.8 934.1,734.5 939.9,735.1 C945.7,735.7 952.2,735.9 957.2,736.2 C962.2,736.6 965.9,736.5 970.2,737.2 C974.5,737.9 979.4,739.6 983.2,740.5 C987.0,741.4 991.3,742.2 992.9,742.6" fill="none" stroke="#ffff00" stroke-width="5.5" stroke-linejoin="round" stroke-linecap="round"/>
</g>
<rect x="63.1" y="3.4" width="930.5" height="826.4" fill="none" stroke="#000" stroke-width="2.8" stroke-linejoin="round"/>
<line x1="63.1" y1="0.4" x2="993.6" y2="0.4" stroke="#000" stroke-opacity="0.09" stroke-width="1"/>
<line x1="63.1" y1="829.8" x2="63.1" y2="846.3" stroke="#000" stroke-width="2.4"/>
<line x1="129.6" y1="829.8" x2="129.6" y2="837.8" stroke="#000" stroke-width="2.4"/>
<line x1="196.0" y1="829.8" x2="196.0" y2="846.3" stroke="#000" stroke-width="2.4"/>
<line x1="262.5" y1="829.8" x2="262.5" y2="837.8" stroke="#000" stroke-width="2.4"/>
<line x1="329.0" y1="829.8" x2="329.0" y2="846.3" stroke="#000" stroke-width="2.4"/>
<line x1="395.4" y1="829.8" x2="395.4" y2="837.8" stroke="#000" stroke-width="2.4"/>
<line x1="461.9" y1="829.8" x2="461.9" y2="846.3" stroke="#000" stroke-width="2.4"/>
<line x1="528.4" y1="829.8" x2="528.4" y2="837.8" stroke="#000" stroke-width="2.4"/>
<line x1="594.8" y1="829.8" x2="594.8" y2="846.3" stroke="#000" stroke-width="2.4"/>
<line x1="661.3" y1="829.8" x2="661.3" y2="837.8" stroke="#000" stroke-width="2.4"/>
<line x1="727.7" y1="829.8" x2="727.7" y2="846.3" stroke="#000" stroke-width="2.4"/>
<line x1="794.2" y1="829.8" x2="794.2" y2="837.8" stroke="#000" stroke-width="2.4"/>
<line x1="860.7" y1="829.8" x2="860.7" y2="846.3" stroke="#000" stroke-width="2.4"/>
<line x1="927.1" y1="829.8" x2="927.1" y2="837.8" stroke="#000" stroke-width="2.4"/>
<line x1="993.6" y1="829.8" x2="993.6" y2="846.3" stroke="#000" stroke-width="2.4"/>
<line x1="186.0" y1="87.0" x2="199.9" y2="65.9" stroke="#ffea00" stroke-width="3.4" stroke-linecap="round"/><path d="M212.0,47.5 L203.0,73.9 L199.4,66.7 L191.3,66.2 Z" fill="#ffea00"/>
<line x1="192.0" y1="238.6" x2="275.4" y2="151.7" stroke="#000" stroke-width="3.2" stroke-linecap="round"/><path d="M290.6,135.8 L277.0,160.1 L274.7,152.4 L266.9,150.4 Z" fill="#000"/>
<line x1="377.2" y1="303.0" x2="422.2" y2="253.1" stroke="#000" stroke-width="3.2" stroke-linecap="round"/><path d="M436.9,236.8 L424.0,261.5 L421.5,253.9 L413.6,252.2 Z" fill="#000"/>
<line x1="416.0" y1="393.5" x2="449.4" y2="368.6" stroke="#000" stroke-width="3.2" stroke-linecap="round"/><path d="M467.0,355.5 L449.5,377.2 L448.6,369.2 L441.2,366.0 Z" fill="#000"/>
<line x1="537.2" y1="615.1" x2="571.8" y2="576.1" stroke="#000" stroke-width="3.2" stroke-linecap="round"/><path d="M586.4,559.6 L573.7,584.4 L571.1,576.8 L563.3,575.2 Z" fill="#000"/>
<line x1="675.9" y1="624.8" x2="742.7" y2="595.1" stroke="#000" stroke-width="3.2" stroke-linecap="round"/><path d="M762.8,586.1 L741.0,603.5 L741.8,595.5 L735.3,590.7 Z" fill="#000"/>
<line x1="331.5" y1="424.0" x2="211.9" y2="511.2" stroke="#ffea00" stroke-width="3.4" stroke-linecap="round"/><path d="M194.1,524.2 L211.8,502.6 L212.7,510.6 L220.0,513.9 Z" fill="#ffea00"/>
<line x1="378.2" y1="431.0" x2="279.8" y2="653.7" stroke="#ffea00" stroke-width="3.4" stroke-linecap="round"/><path d="M270.9,673.8 L275.4,646.3 L280.2,652.8 L288.2,651.9 Z" fill="#ffea00"/>
<line x1="414.2" y1="502.0" x2="403.4" y2="718.0" stroke="#ffea00" stroke-width="3.4" stroke-linecap="round"/><path d="M402.3,740.0 L396.7,712.7 L403.4,717.0 L410.6,713.4 Z" fill="#ffea00"/>
<line x1="758.9" y1="36.3" x2="828.5" y2="36.3" stroke="#000000" stroke-width="4.3" stroke-linecap="round"/>
<line x1="759.8" y1="85.3" x2="827.6" y2="85.3" stroke="#ff0000" stroke-width="6" stroke-linecap="round"/>
<line x1="759.8" y1="127" x2="827.6" y2="127" stroke="#0000ff" stroke-width="6" stroke-linecap="round"/>
<line x1="759.8" y1="168.9" x2="827.6" y2="168.9" stroke="#00ff00" stroke-width="6" stroke-linecap="round"/>
<line x1="759.8" y1="210.8" x2="827.6" y2="210.8" stroke="#9900cc" stroke-width="6" stroke-linecap="round"/>
<line x1="759.8" y1="252.4" x2="827.6" y2="252.4" stroke="#ffff00" stroke-width="6" stroke-linecap="round"/>
<g font-family="'Liberation Serif', serif" font-weight="bold" fill="#000">
<text x="843.5" y="47" font-size="33.5" text-anchor="start" textLength="127.5" lengthAdjust="spacingAndGlyphs">Pure CeO</text>
<text x="970.5" y="55.8" font-size="22.5" text-anchor="start" textLength="10" lengthAdjust="spacingAndGlyphs">2</text>
<text x="843.5" y="95.6" font-size="33.5" text-anchor="start" textLength="98" lengthAdjust="spacingAndGlyphs">x = 0.02</text>
<text x="843.5" y="137.2" font-size="33.5" text-anchor="start" textLength="98" lengthAdjust="spacingAndGlyphs">x = 0.05</text>
<text x="843.5" y="179.6" font-size="33.5" text-anchor="start" textLength="98" lengthAdjust="spacingAndGlyphs">x = 0.07</text>
<text x="843.5" y="221.2" font-size="33.5" text-anchor="start" textLength="98" lengthAdjust="spacingAndGlyphs">x = 0.09</text>
<text x="843.5" y="262.6" font-size="33.5" text-anchor="start" textLength="98" lengthAdjust="spacingAndGlyphs">x = 0.11</text>
<text x="219.5" y="64.8" font-size="39.5" text-anchor="start" textLength="53" lengthAdjust="spacingAndGlyphs">394</text>
<text x="282.5" y="64.8" font-size="39.5" text-anchor="start" textLength="48" lengthAdjust="spacingAndGlyphs">nm</text>
<text x="298.6" y="145.6" font-size="39.5" text-anchor="start" textLength="53" lengthAdjust="spacingAndGlyphs">396</text>
<text x="361.6" y="145.6" font-size="39.5" text-anchor="start" textLength="48" lengthAdjust="spacingAndGlyphs">nm</text>
<text x="408.8" y="229.9" font-size="39.5" text-anchor="start" textLength="53" lengthAdjust="spacingAndGlyphs">469</text>
<text x="471.8" y="229.9" font-size="39.5" text-anchor="start" textLength="48" lengthAdjust="spacingAndGlyphs">nm</text>
<text x="450.5" y="345" font-size="39.5" text-anchor="start" textLength="53" lengthAdjust="spacingAndGlyphs">482</text>
<text x="513.5" y="345" font-size="39.5" text-anchor="start" textLength="48" lengthAdjust="spacingAndGlyphs">nm</text>
<text x="533.2" y="552.2" font-size="39.5" text-anchor="start" textLength="53" lengthAdjust="spacingAndGlyphs">529</text>
<text x="596.2" y="552.2" font-size="39.5" text-anchor="start" textLength="48" lengthAdjust="spacingAndGlyphs">nm</text>
<text x="743.1" y="573.5" font-size="39.5" text-anchor="start" textLength="53" lengthAdjust="spacingAndGlyphs">580</text>
<text x="806.1" y="573.5" font-size="39.5" text-anchor="start" textLength="48" lengthAdjust="spacingAndGlyphs">nm</text>
<text x="133.8" y="555.6" font-size="39.5" text-anchor="start" textLength="53" lengthAdjust="spacingAndGlyphs">450</text>
<text x="196.8" y="555.6" font-size="39.5" text-anchor="start" textLength="48" lengthAdjust="spacingAndGlyphs">nm</text>
<text x="179.9" y="715.6" font-size="39.5" text-anchor="start" textLength="53" lengthAdjust="spacingAndGlyphs">467</text>
<text x="251.7" y="715.6" font-size="39.5" text-anchor="start" textLength="48" lengthAdjust="spacingAndGlyphs">nm</text>
<text x="344.3" y="780.5" font-size="39.5" text-anchor="start" textLength="53" lengthAdjust="spacingAndGlyphs">481</text>
<text x="414.6" y="780.5" font-size="39.5" text-anchor="start" textLength="48" lengthAdjust="spacingAndGlyphs">nm</text>
<text x="637.5" y="409.8" font-size="45" text-anchor="start" textLength="344" lengthAdjust="spacingAndGlyphs">Excitation at 350 nm</text>
<text x="63.1" y="884.5" font-size="36" text-anchor="middle" textLength="48" lengthAdjust="spacingAndGlyphs">350</text>
<text x="196.0" y="884.5" font-size="36" text-anchor="middle" textLength="48" lengthAdjust="spacingAndGlyphs">400</text>
<text x="329.0" y="884.5" font-size="36" text-anchor="middle" textLength="48" lengthAdjust="spacingAndGlyphs">450</text>
<text x="461.9" y="884.5" font-size="36" text-anchor="middle" textLength="48" lengthAdjust="spacingAndGlyphs">500</text>
<text x="594.8" y="884.5" font-size="36" text-anchor="middle" textLength="48" lengthAdjust="spacingAndGlyphs">550</text>
<text x="727.7" y="884.5" font-size="36" text-anchor="middle" textLength="48" lengthAdjust="spacingAndGlyphs">600</text>
<text x="860.7" y="884.5" font-size="36" text-anchor="middle" textLength="48" lengthAdjust="spacingAndGlyphs">650</text>
<text x="993.6" y="884.5" font-size="36" text-anchor="middle" textLength="48" lengthAdjust="spacingAndGlyphs">700</text>
<text x="411" y="946" font-size="35.5" text-anchor="start" textLength="236" lengthAdjust="spacingAndGlyphs">Wavelength (nm)</text>
<text transform="translate(22.6,521.5) rotate(-90)" font-size="30.5" textLength="209" lengthAdjust="spacingAndGlyphs">Intensity(a.u.)</text>
</g>
</svg>
</body></html>
